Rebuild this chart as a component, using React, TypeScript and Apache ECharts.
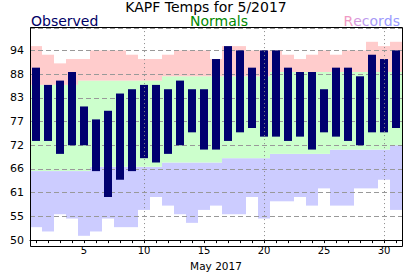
import React, { useEffect, useRef } from "react";
import * as echarts from "echarts";

// Days of May 2017
const days = ["1","2","3","4","5","6","7","8","9","10","11","12","13","14","15","16","17","18","19","20","21","22","23","24","25","26","27","28","29","30","31"];

// Record temperatures
const recordHigh = [95,93,91,92,92,94,94,94,93,92,92,93,94,94,94,92,95,95,94,94,94,93,92,93,94,93,94,94,96,95,96];
const recordLow  = [53,52,56,55,51,52,55,53,53,57,60,58,56,54,57,58,56,56,60,55,59,59,60,58,62,58,58,62,62,64,57];

// Normals
const normalHigh = [86,86,86,86,87,87,87,87,87,87,87,88,88,88,88,88,88,88,88,88,89,89,89,89,89,89,89,89,89,89,89];
const normalLow  = [66,66,66,66,66,67,67,67,67,67,67,68,68,68,68,68,69,69,69,69,70,70,70,70,70,71,71,71,71,71,72];

// Observed
const observedHigh = [90,86,87,89,81,78,80,84,85,86,86,85,87,85,85,92,95,94,90,94,94,90,89,89,85,90,90,88,93,92,94];
const observedLow  = [73,73,70,72,72,66,60,64,66,69,68,70,72,75,71,71,73,75,76,74,74,73,74,71,75,74,73,72,75,75,76];

// Axis settings
const yMin = 50;
const yMax = 99.2;
const yStep = 5.5;
const gridDays = ["10", "20", "30"];

const FONT = "DejaVu Sans";

// letter colours of the "Records" legend (pink fading to lavender)
const recordsLetters = ["R", "e", "c", "o", "r", "d", "s"];
const recordsColors = ["#f09ac4", "#d69ade", "#bc9aee", "#a89af6", "#9e9afc", "#9a9aff", "#9a9aff"];

export default function App() {
  const ref = useRef<HTMLDivElement>(null);

  useEffect(() => {
    if (!ref.current) return;
    const chart = echarts.init(ref.current, undefined, { renderer: "svg" });

    const lavender = recordLow.map((v, i) => normalLow[i] - v);
    const green = normalLow.map((v, i) => normalHigh[i] - v);
    const pink = normalHigh.map((v, i) => recordHigh[i] - v);
    const obsSpan = observedLow.map((v, i) => observedHigh[i] - v);

    const clear = "rgba(0,0,0,0)";
    const bandCommon = {
      type: "bar",
      xAxisIndex: 0,
      stack: "band",
      barCategoryGap: "0%",
      z: 1,
      silent: true,
    };

    const rich: any = {};
    recordsLetters.forEach((_, i) => {
      rich["c" + i] = {
        fill: recordsColors[i],
        color: recordsColors[i],
        fontSize: 14,
        fontFamily: FONT,
        lineHeight: 11,
      };
    });
    const recordsText = recordsLetters.map((ch, i) => `{c${i}|${ch}}`).join("");

    const option: any = {
      animation: false,
      backgroundColor: "#ffffff",
      textStyle: { fontFamily: FONT },
      grid: { left: 30, right: 10, top: 28, bottom: 29, containLabel: false },
      xAxis: [
        {
          type: "category",
          data: days,
          boundaryGap: true,
          z: 4,
          axisLine: { show: true, lineStyle: { color: "#000", width: 1 } },
          axisTick: {
            show: true,
            alignWithLabel: true,
            interval: 0,
            length: 3,
            lineStyle: { color: "#000" },
          },
          axisLabel: {
            interval: (i: number) => (i + 1) % 5 === 0,
            margin: 5,
            color: "#000",
            fontSize: 10,
            fontFamily: FONT,
          },
          splitLine: { show: false },
          name: "May 2017",
          nameLocation: "middle",
          nameGap: 16,
          nameTextStyle: { fontSize: 10.5, color: "#000", fontFamily: FONT },
        },
        {
          type: "category",
          data: days,
          boundaryGap: true,
          show: false,
        },
      ],
      yAxis: {
        type: "value",
        min: yMin,
        max: yMax,
        interval: yStep,
        z: 2,
        axisLine: { show: true, lineStyle: { color: "#000" } },
        axisTick: { show: false },
        axisLabel: {
          formatter: (v: number) => String(Math.floor(v + 1e-9)),
          showMaxLabel: false,
          margin: 6,
          fontSize: 11,
          color: "#000",
          fontFamily: FONT,
        },
        splitLine: {
          show: true,
          lineStyle: { color: "#999999", type: [5, 3], width: 1 },
        },
      },
      series: [
        { ...bandCommon, data: recordLow, itemStyle: { color: clear } },
        { ...bandCommon, data: lavender, itemStyle: { color: "#ccccff" } },
        { ...bandCommon, data: green, itemStyle: { color: "#ccffcc" } },
        { ...bandCommon, data: pink, itemStyle: { color: "#ffcccc" } },
        {
          type: "bar",
          xAxisIndex: 1,
          stack: "obs",
          barWidth: 8,
          z: 3,
          silent: true,
          data: observedLow,
          itemStyle: { color: clear },
        },
        {
          type: "bar",
          xAxisIndex: 1,
          stack: "obs",
          barWidth: 8,
          z: 3,
          silent: true,
          data: obsSpan,
          itemStyle: { color: "#000070" },
          markLine: {
            silent: true,
            symbol: "none",
            label: { show: false },
            lineStyle: { color: "#888888", type: [1, 3], width: 1 },
            data: gridDays.map((d) => ({ xAxis: d })),
          },
        },
      ],
      graphic: [
        {
          type: "text",
          x: 206,
          y: 7,
          style: {
            text: "KAPF Temps for 5/2017",
            fontSize: 14,
            fontFamily: FONT,
            lineHeight: 11,
            fill: "#000",
            textAlign: "center",
            textVerticalAlign: "middle",
            align: "center",
            verticalAlign: "middle",
          },
        },
        {
          type: "text",
          x: 31,
          y: 21,
          style: {
            text: "Observed",
            fontSize: 14,
            fontFamily: FONT,
            lineHeight: 11,
            fill: "#000066",
            textAlign: "left",
            textVerticalAlign: "middle",
            align: "left",
            verticalAlign: "middle",
          },
        },
        {
          type: "text",
          x: 219,
          y: 21,
          style: {
            text: "Normals",
            fontSize: 14,
            fontFamily: FONT,
            lineHeight: 11,
            fill: "#008800",
            textAlign: "center",
            textVerticalAlign: "middle",
            align: "center",
            verticalAlign: "middle",
          },
        },
        {
          type: "text",
          x: 400,
          y: 21,
          style: {
            text: recordsText,
            rich,
            fontSize: 14,
            fontFamily: FONT,
            lineHeight: 11,
            fill: "#9a9aff",
            textAlign: "right",
            textVerticalAlign: "middle",
            align: "right",
            verticalAlign: "middle",
          },
        },
        {
          type: "rect",
          z: 100,
          silent: true,
          shape: { x: 30.5, y: 27.5, width: 372, height: 219 },
          style: { fill: "none", stroke: "#000", lineWidth: 1 },
        },
      ],
    };

    chart.setOption(option);
    return () => chart.dispose();
  }, []);

  return (
    <div
      ref={ref}
      style={{ position: "fixed", left: 0, top: 0, width: 412, height: 276 }}
    />
  );
}
